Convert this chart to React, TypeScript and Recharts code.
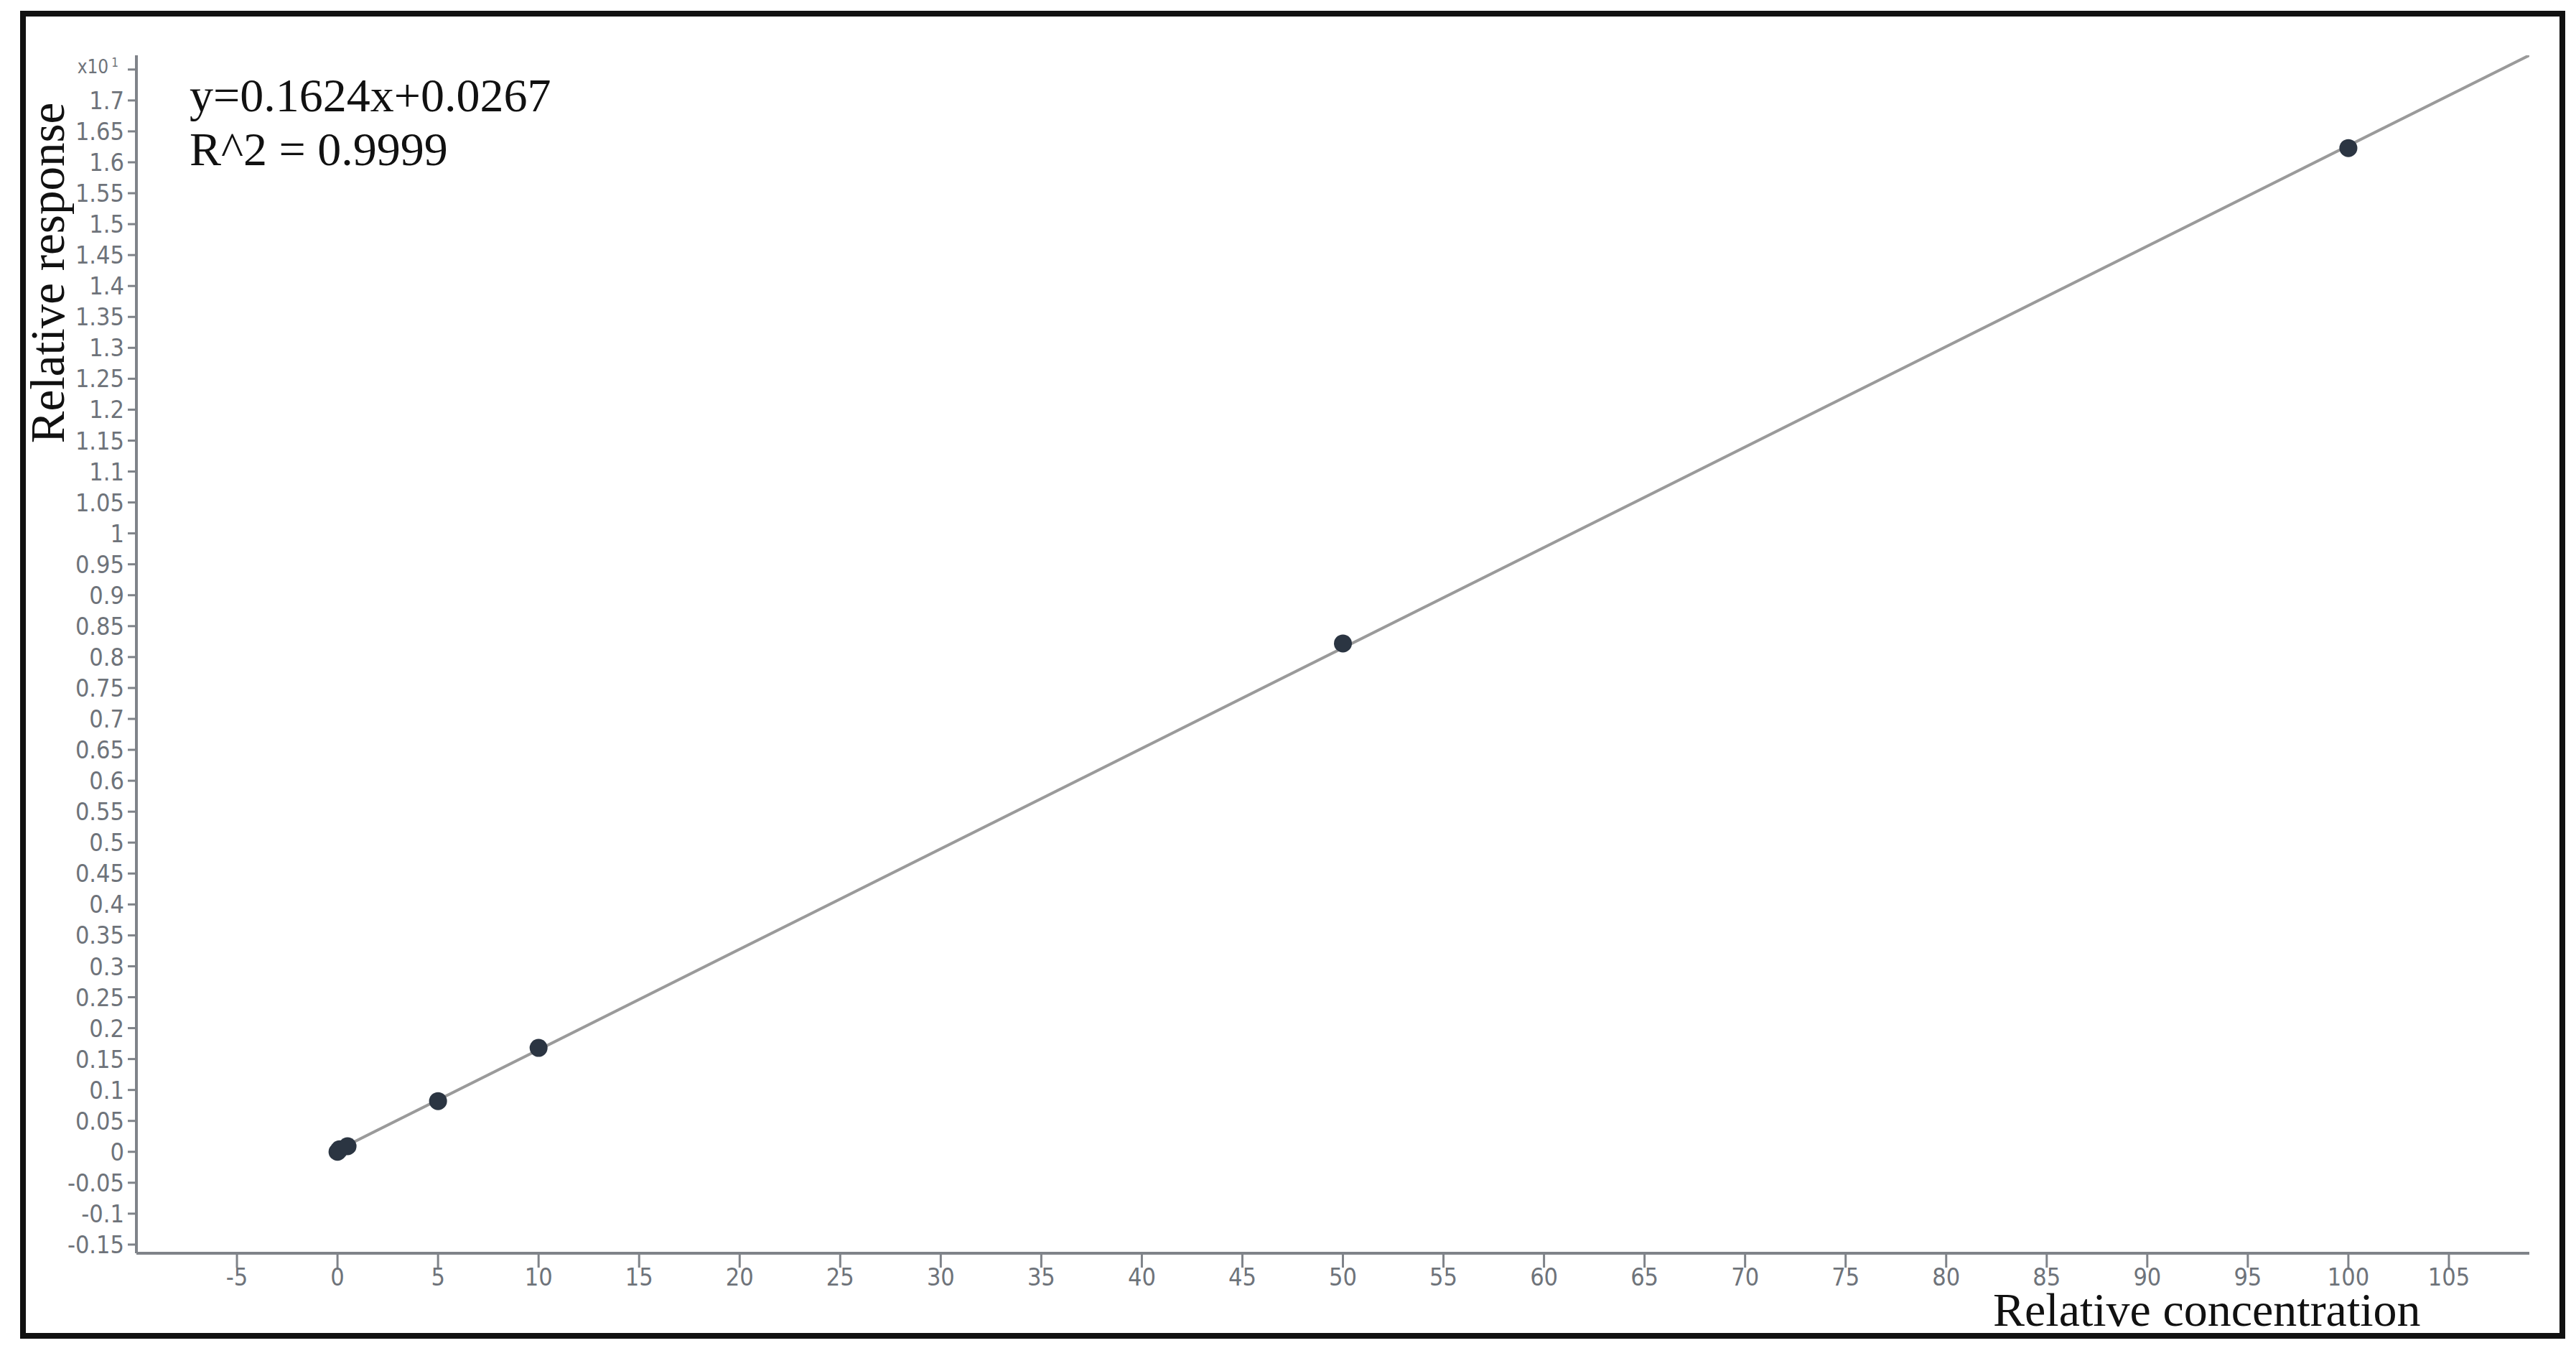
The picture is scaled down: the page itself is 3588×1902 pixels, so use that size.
import React from "react";
import { ScatterChart, Scatter, XAxis, YAxis } from "recharts";

// standards: relative concentration vs relative response (y axis in x10^1 units)
const concentrations = [0, 0.1, 0.5, 5, 10, 50, 100];
const responses = [0, 0.004, 0.009, 0.082, 0.168, 0.822, 1.623];

// fitted calibration line end points
const fitX = [0, 109];
const fitY = [0.0027, 1.773];

const xTicks = [-5, 0, 5, 10, 15, 20, 25, 30, 35, 40, 45, 50, 55, 60, 65, 70, 75, 80, 85, 90, 95, 100, 105];
const yTicks = [
  -0.15, -0.1, -0.05, 0, 0.05, 0.1, 0.15, 0.2, 0.25, 0.3, 0.35, 0.4, 0.45, 0.5, 0.55, 0.6, 0.65, 0.7, 0.75,
  0.8, 0.85, 0.9, 0.95, 1, 1.05, 1.1, 1.15, 1.2, 1.25, 1.3, 1.35, 1.4, 1.45, 1.5, 1.55, 1.6, 1.65, 1.7, 1.75,
];

const equationText = "y=0.1624x+0.0267";
const r2Text = "R^2 = 0.9999";
const xTitle = "Relative concentration";
const yTitle = "Relative response";

const points = concentrations.map((x, i) => ({ x, y: responses[i] }));
const fitLine = fitX.map((x, i) => ({ x, y: fitY[i] }));

const AXIS = "#7f8389";
const TICK_TEXT = "#6e737a";
const TICK_FONT = "'Liberation Sans Narrow', 'DejaVu Sans Condensed', Arial, sans-serif";
const SERIF = "'Liberation Serif', 'Times New Roman', serif";

function YTick({ x, y, payload }: any) {
  const v = payload.value;
  if (v === 1.75) {
    return (
      <text x={x - 8} y={y} dy="0.35em" textAnchor="end" fill={TICK_TEXT} fontFamily={TICK_FONT}>
        <tspan fontSize={26}>x10</tspan>
        <tspan fontSize={17} dx={4} dy={-9}>1</tspan>
      </text>
    );
  }
  return (
    <text x={x} y={y} dy="0.355em" textAnchor="end" fill={TICK_TEXT} fontSize={34} fontFamily={TICK_FONT}>
      {String(Number(v.toFixed(2)))}
    </text>
  );
}

function XTick({ x, y, payload }: any) {
  return (
    <text x={x} y={y} dy="0.72em" textAnchor="middle" fill={TICK_TEXT} fontSize={34} fontFamily={TICK_FONT}>
      {String(payload.value)}
    </text>
  );
}

const Dot = ({ cx, cy }: any) => <circle cx={cx} cy={cy} r={12.5} fill="#2b3542" />;
const NoDot = () => <g />;

export default function App() {
  return (
    <div style={{ position: "absolute", left: 0, top: 0, width: 3588, height: 1902, background: "#fff" }}>
      <div
        style={{
          position: "absolute",
          left: 28,
          top: 15,
          width: 3545,
          height: 1849,
          border: "8px solid #111",
          boxSizing: "border-box",
        }}
      />
      <div style={{ position: "absolute", left: 0, top: 0 }}>
        <ScatterChart width={3588} height={1902} margin={{ top: 77, right: 65, bottom: 97, left: 40 }}>
          <XAxis
            type="number"
            dataKey="x"
            domain={[-10, 109]}
            ticks={xTicks}
            interval={0}
            allowDataOverflow
            height={60}
            axisLine={{ stroke: AXIS, strokeWidth: 4 }}
            tickLine={{ stroke: AXIS, strokeWidth: 3 }}
            tickSize={20}
            tickMargin={1}
            tick={<XTick />}
          />
          <YAxis
            type="number"
            dataKey="y"
            domain={[-0.164, 1.773]}
            ticks={yTicks}
            interval={0}
            allowDataOverflow
            width={150}
            axisLine={{ stroke: AXIS, strokeWidth: 4 }}
            tickLine={{ stroke: AXIS, strokeWidth: 3 }}
            tickSize={12}
            tickMargin={5}
            tick={<YTick />}
          />
          <Scatter
            data={fitLine}
            line={{ stroke: "#9a9a9a", strokeWidth: 4 }}
            shape={<NoDot />}
            isAnimationActive={false}
          />
          <Scatter data={points} shape={<Dot />} isAnimationActive={false} />
        </ScatterChart>
      </div>
      <svg
        width={3588}
        height={1902}
        style={{ position: "absolute", left: 0, top: 0, pointerEvents: "none" }}
      >
        <text x={264} y={155} fontFamily={SERIF} fontSize={66} fill="#111">
          {equationText}
        </text>
        <text x={264} y={230} fontFamily={SERIF} fontSize={66} fill="#111">
          {r2Text}
        </text>
        <text x={2776} y={1846} fontFamily={SERIF} fontSize={66} fill="#111">
          {xTitle}
        </text>
        <text
          transform="translate(89,380) rotate(-90)"
          textAnchor="middle"
          fontFamily={SERIF}
          fontSize={67}
          fill="#111"
        >
          {yTitle}
        </text>
      </svg>
    </div>
  );
}
